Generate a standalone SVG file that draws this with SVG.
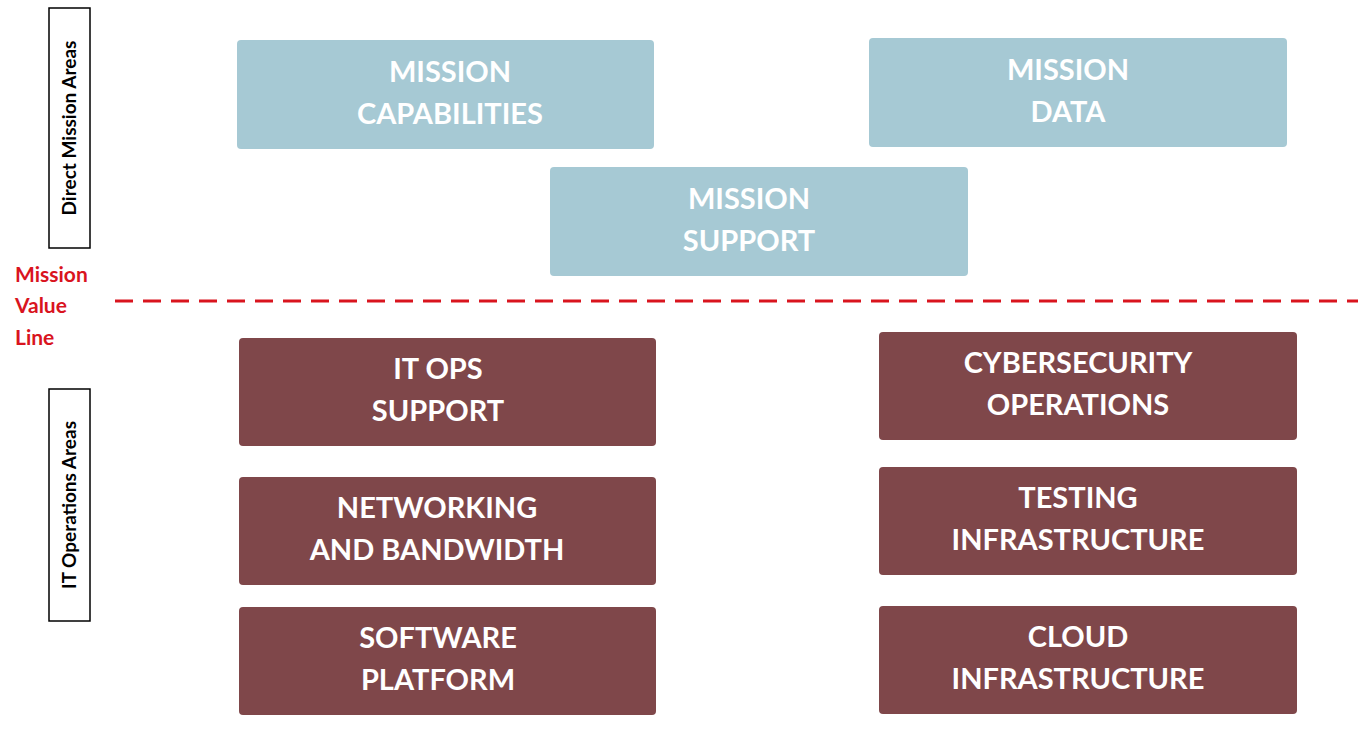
<svg xmlns="http://www.w3.org/2000/svg" width="1358" height="732" viewBox="0 0 1358 732">
<style>
.b{fill:#A6C9D4}.r{fill:#7F474A}
.t{font-family:Lato,"Open Sans",sans-serif;font-weight:bold;font-size:29px;fill:#fff;text-anchor:middle}
.v{font-family:Lato,"Open Sans",sans-serif;font-weight:bold;font-size:19px;fill:#000;text-anchor:middle}
.m{font-family:Lato,"Open Sans",sans-serif;font-weight:bold;font-size:21px;fill:#D9141E}
.f{fill:#fff;stroke:#000;stroke-width:1.5}
</style>
<rect width="1358" height="732" fill="#fff"/>
<g id="label-direct"><rect class="f" x="49" y="8" width="41" height="240"/><text class="v" transform="translate(76,128) rotate(-90)">Direct Mission Areas</text></g>
<g id="label-itops"><rect class="f" x="49" y="389" width="41" height="232"/><text class="v" transform="translate(76,505) rotate(-90)">IT Operations Areas</text></g>
<g id="mvl"><text class="m" x="15" y="282">Mission</text><text class="m" x="15" y="313">Value</text><text class="m" x="15" y="345">Line</text></g>
<g id="connectors"><line x1="115" y1="301" x2="1358" y2="301" stroke="#D9141E" stroke-width="3" stroke-dasharray="18,10"/></g>
<g id="n1"><rect class="b" x="237" y="40" width="417" height="109" rx="4"/><text class="t" x="450" y="82">MISSION</text><text class="t" x="450" y="124">CAPABILITIES</text></g>
<g id="n2"><rect class="b" x="869" y="38" width="418" height="109" rx="4"/><text class="t" x="1068" y="80">MISSION</text><text class="t" x="1068" y="122">DATA</text></g>
<g id="n3"><rect class="b" x="550" y="167" width="418" height="109" rx="4"/><text class="t" x="749" y="209">MISSION</text><text class="t" x="749" y="251">SUPPORT</text></g>
<g id="n4"><rect class="r" x="239" y="338" width="417" height="108" rx="4"/><text class="t" x="438" y="379">IT OPS</text><text class="t" x="438" y="421">SUPPORT</text></g>
<g id="n5"><rect class="r" x="239" y="477" width="417" height="108" rx="4"/><text class="t" x="437" y="518">NETWORKING</text><text class="t" x="437" y="560">AND BANDWIDTH</text></g>
<g id="n6"><rect class="r" x="239" y="607" width="417" height="108" rx="4"/><text class="t" x="438" y="648">SOFTWARE</text><text class="t" x="438" y="690">PLATFORM</text></g>
<g id="n7"><rect class="r" x="879" y="332" width="418" height="108" rx="4"/><text class="t" x="1078" y="373">CYBERSECURITY</text><text class="t" x="1078" y="415">OPERATIONS</text></g>
<g id="n8"><rect class="r" x="879" y="467" width="418" height="108" rx="4"/><text class="t" x="1078" y="508">TESTING</text><text class="t" x="1078" y="550">INFRASTRUCTURE</text></g>
<g id="n9"><rect class="r" x="879" y="606" width="418" height="108" rx="4"/><text class="t" x="1078" y="647">CLOUD</text><text class="t" x="1078" y="689">INFRASTRUCTURE</text></g>
</svg>
